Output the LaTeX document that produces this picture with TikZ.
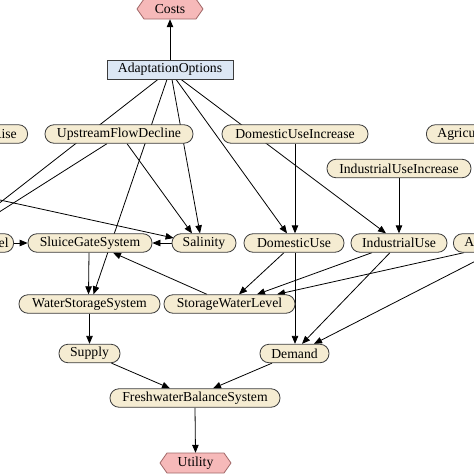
\documentclass[tikz,border=0pt]{standalone}
\usepackage{fontspec}
\setmainfont{Liberation Serif}
\usetikzlibrary{arrows.meta,backgrounds}
\definecolor{nodefill}{HTML}{F5ECD2}
\definecolor{nodedraw}{HTML}{3C3C3C}
\definecolor{aofill}{HTML}{DCE7F4}
\definecolor{hexfill}{HTML}{F6B9B9}
\definecolor{hexdraw}{HTML}{A06868}
\begin{document}
\begin{tikzpicture}[x=1pt,y=-1pt,
  base/.style={font=\fontsize{13.7}{16}\selectfont, text=black, inner sep=0pt, minimum height=18.5pt},
  var/.style={base, draw=nodedraw, fill=nodefill, line width=0.8pt, rounded corners=9pt},
  dec/.style={base, draw=nodedraw, fill=aofill, line width=0.8pt, minimum height=19pt},
  hexlabel/.style={base, minimum height=20pt},
  hexshape/.style={draw=hexdraw, fill=hexfill, line width=0.8pt},
  edge/.style={draw=black, line width=0.8pt, -{Triangle[length=8pt,width=6.5pt]}}
]
\useasboundingbox (0,0) rectangle (474,474);
\path[hexshape] (137,9) -- (144,-1) -- (196,-1) -- (203,9) -- (196,19) -- (144,19) -- cycle;
\node[hexlabel, minimum width=66pt] (costs) at (170,9) {Costs};
\path[hexshape] (160,463) -- (167,453) -- (224,453) -- (231,463) -- (224,473) -- (167,473) -- cycle;
\node[hexlabel, minimum width=71pt] (utility) at (195.5,463) {Utility};

\node[dec, minimum width=126pt] (ao) at (170,69.5) {AdaptationOptions};
\node[var, minimum width=97pt, anchor=east] (rise) at (28,134) {SeaLevelRise};
\node[var, minimum width=148pt] (ufd) at (119,134) {UpstreamFlowDecline};
\node[var, minimum width=146pt] (dui) at (295,134) {DomesticUseIncrease};
\node[var, inner xsep=11pt, anchor=west] (aui) at (426,134) {AgriculturalUseIncrease};
\node[var, minimum width=144pt] (iui) at (399,168.5) {IndustrialUseIncrease};
\node[var, inner xsep=5pt, anchor=east] (rwl) at (14,243) {RiverWaterLevel};
\node[var, minimum width=124pt] (sgs) at (90,243) {SluiceGateSystem};
\node[var, minimum width=64pt] (sal) at (204,243) {Salinity};
\node[var, minimum width=100pt] (du) at (294,243) {DomesticUse};
\node[var, minimum width=96pt] (iu) at (399,243) {IndustrialUse};
\node[var, inner xsep=11pt, anchor=west] (au) at (453,243) {AgriculturalUse};
\node[var, minimum width=141pt] (wss) at (89.5,304) {WaterStorageSystem};
\node[var, minimum width=131pt] (swl) at (229.5,304) {StorageWaterLevel};
\node[var, minimum width=61pt] (supply) at (89.5,353.5) {Supply};
\node[var, minimum width=69pt] (demand) at (294.5,353.5) {Demand};
\node[var, minimum width=170pt] (fbs) at (195,398) {FreshwaterBalanceSystem};

\begin{scope}[on background layer]
\draw[edge] (ao.north) -- (costs.south);
\draw[edge] ([xshift=-12pt]ao.south) -- ([xshift=-1pt]rwl.north);
\draw[edge] ([xshift=-12pt]ufd.south) -- ([xshift=4pt]rwl.north);
\draw[edge] (rise.south) .. controls (-12,197) .. (0,200) -- ([xshift=2pt,yshift=5pt]sal.west);
\draw[edge] ([xshift=-3pt]ao.south) -- ([xshift=4pt]wss.north);
\draw[edge] ([xshift=-1pt]sgs.south) -- ([xshift=-1pt]wss.north);
\draw[edge] ([xshift=2pt]ao.south) -- ([xshift=-4pt]sal.north);
\draw[edge] ([xshift=8pt]ufd.south) -- ([xshift=-12pt]sal.north);
\draw[edge] ([xshift=6pt]ao.south) -- ([xshift=-7pt]du.north);
\draw[edge] ([xshift=11pt]ao.south) -- ([xshift=-13pt]iu.north);
\draw[edge] (dui.south) -- ([xshift=1pt]du.north);
\draw[edge] (iui.south) -- (iu.north);
\draw[edge] (sal.west) -- (sgs.east);
\draw[edge] (rwl.east) -- (sgs.west);
\draw[edge] ([xshift=-22.5pt]swl.north) -- ([xshift=23pt]sgs.south);
\draw[edge] ([xshift=-10pt]du.south) -- ([xshift=9.5pt]swl.north);
\draw[edge] ([xshift=-27pt]iu.south) -- ([xshift=27.5pt]swl.north);
\draw[edge] ([xshift=11pt]au.south west) -- ([xshift=47.5pt]swl.north);
\draw[edge] ([xshift=1pt]du.south) -- ([xshift=0.5pt]demand.north);
\draw[edge] ([xshift=-9pt]iu.south) -- ([xshift=7.5pt]demand.north);
\draw[edge] ([xshift=39pt]au.south west) -- ([xshift=19.5pt]demand.north);
\draw[edge] (wss.south) -- (supply.north);
\draw[edge] ([xshift=22pt]supply.south) -- ([xshift=-25pt]fbs.north);
\draw[edge] ([xshift=-22.5pt]demand.south) -- ([xshift=18pt]fbs.north);
\draw[edge] (fbs.south) -- (utility.north);
\end{scope}
\end{tikzpicture}
\end{document}
